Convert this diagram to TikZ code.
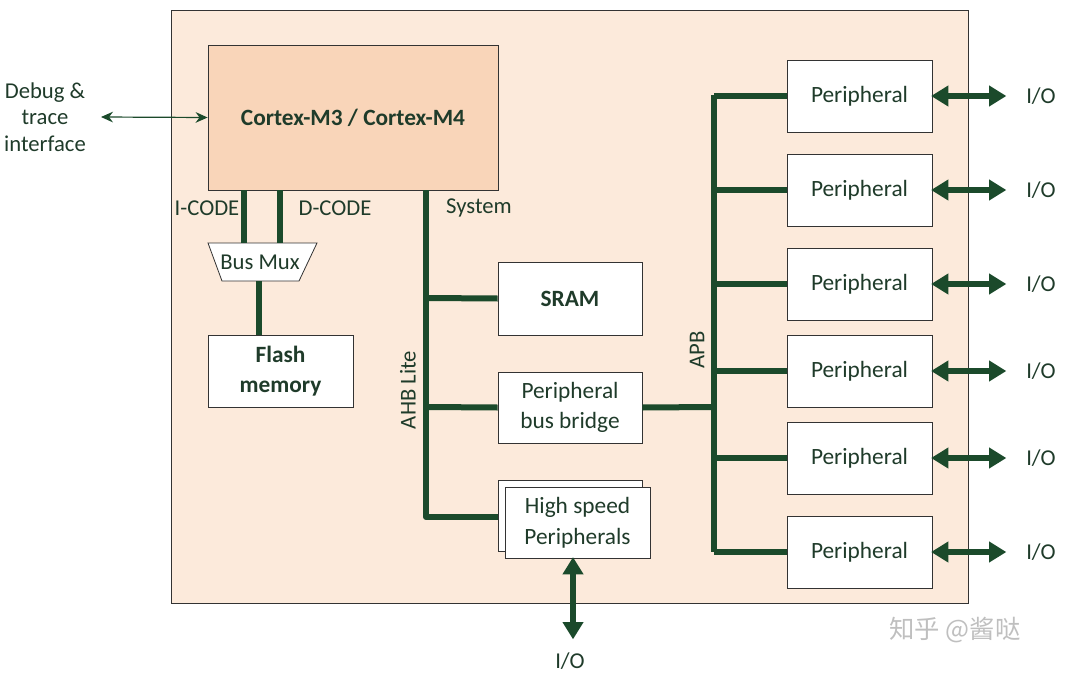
\documentclass[tikz,border=0pt]{standalone}
\usepackage{fontspec}
\setmainfont{Carlito}
\newfontfamily\cjk{Noto Sans CJK SC}
\usetikzlibrary{arrows.meta}
\definecolor{bg}{HTML}{FCEADB}
\definecolor{cpu}{HTML}{F9D5B9}
\definecolor{dg}{HTML}{1B4A2B}
\definecolor{tx}{HTML}{1F3B2A}
\begin{document}
\begin{tikzpicture}[x=0.75pt,y=-0.75pt,
  every node/.style={text=tx,font=\fontsize{17}{20}\selectfont},
  box/.style={draw=black!80,fill=white,line width=0.6pt},
  bus/.style={draw=dg,line width=4.5pt},
  io/.style={draw=dg,line width=4.5pt,{Triangle[length=13pt,width=15pt]}-{Triangle[length=13pt,width=15pt]},shorten <=-1pt,shorten >=-1pt}]
\useasboundingbox (0,0) rectangle (1066,674);
\draw[fill=bg,draw=black!80,line width=0.6pt] (171,10) rectangle (968,603);
\node[draw=black!80,fill=cpu,line width=0.6pt,minimum width=217.5pt,minimum height=108.75pt,font=\fontsize{17.5}{20}\selectfont\bfseries] (cpu) at (353,117.5) {Cortex-M3 / Cortex-M4};
\node[align=center] (dbg) at (45,117) {Debug \&\\trace\\interface};
\draw[dg,line width=0.9pt,{Stealth[length=9pt,width=8pt]}-{Stealth[length=9pt,width=8pt]}] (101,117) -- (cpu.west);
% code buses
\coordinate (ic) at (244,190);
\coordinate (dc) at (280,190);
\draw[fill=white,draw=black!80,line width=0.6pt] (208,243) -- (317,243) -- (299,281) -- (222,281) -- cycle;
\node (muxt) at (260,262) {Bus Mux};
\coordinate (mt1) at (244,243);
\coordinate (mt2) at (280,243);
\coordinate (mb) at (259,281);
\draw[bus] (ic) -- (mt1);
\draw[bus] (dc) -- (mt2);
\node[box,minimum width=108.75pt,minimum height=54pt,align=center,font=\fontsize{17.5}{22}\selectfont\bfseries] (flash) at (280.5,371) {Flash\\memory};
\draw[bus] (mb) -- (flash.north -| mb);
\node (il) at (207,208) {I-CODE};
\node (dl) at (335,208) {D-CODE};
\node (sl) at (479,208) {System};
% AHB
\node[box,minimum width=108pt,minimum height=54.75pt,font=\fontsize{17.5}{20}\selectfont\bfseries] (sram) at (570,298.5) {SRAM};
\node[box,minimum width=108pt,minimum height=53.25pt,align=center,font=\fontsize{17.5}{23}\selectfont] (br) at (570,407.5) {Peripheral\\bus bridge};
\node[box,minimum width=108pt,minimum height=53.25pt] (hsb) at (570,515.5) {};
\node[box,minimum width=108.75pt,minimum height=53.25pt,align=center,font=\fontsize{17.5}{23}\selectfont] (hs) at (577.5,522.5) {High speed\\Peripherals};
\coordinate (sys) at (426,190);
\coordinate (ahbend) at (426,517);
\draw[bus,line join=round] (sys) -- (ahbend) -- (hsb.west |- ahbend);
\draw[bus] (426,298) -- (sram.west);
\draw[bus] (426,407) -- (br.west);
\node[rotate=90] (ahbl) at (408,390) {AHB Lite};
\node (hsio) at (570,661) {I/O};
\coordinate (hsioa) at (573,638);
\draw[io] (hsioa) -- (hs.south -| hsioa);
% APB
\coordinate (apbtop) at (714,95);
\coordinate (apbbot) at (714,552);
\draw[bus] (br.east) -- (714,407);
\draw[bus] (apbtop) -- (apbbot);
\node[rotate=90] (apbl) at (697,350) {APB};
\foreach \y/\n in {96/p1,190/p2,284/p3,371/p4,458/p5,552/p6}{
  \node[box,minimum width=108.75pt,minimum height=54pt,font=\fontsize{17.5}{20}\selectfont] (\n) at (859.5,\y) {Peripheral};
  \draw[bus] (714,\y) -- (\n.west);
  \node (\n io) at (1041,\y) {I/O};
  \coordinate (\n a) at (1005,\y);
  \draw[io] (\n.east) -- (\n a);
}
\node[text=black!25,font=\cjk\fontsize{19}{22}\selectfont] (wm) at (955,630) {知乎 @酱哒};
\end{tikzpicture}
\end{document}
